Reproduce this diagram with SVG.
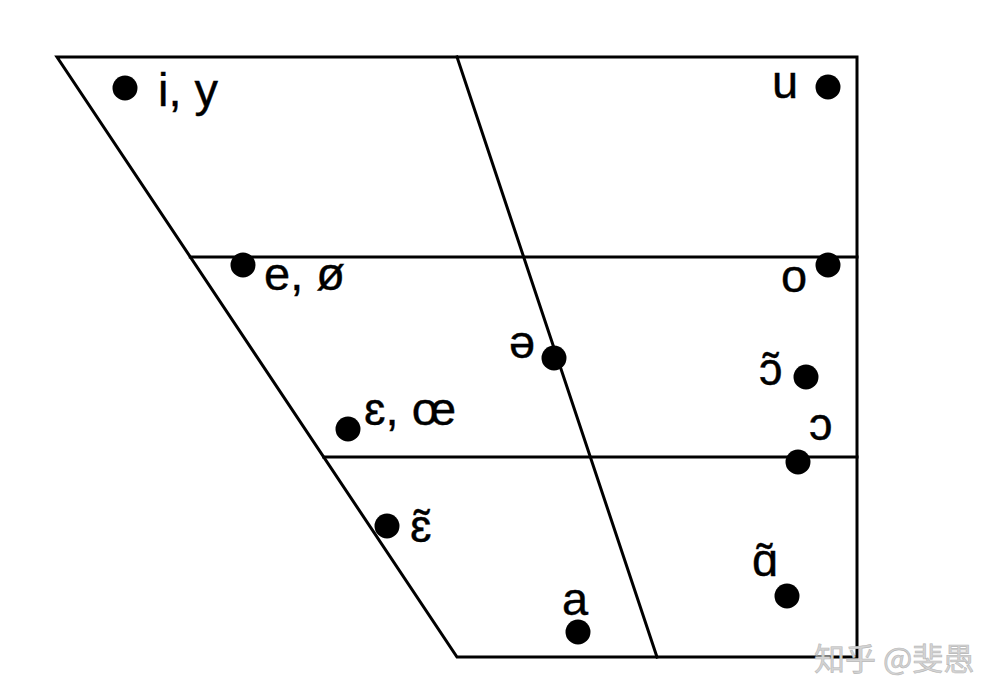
<svg xmlns="http://www.w3.org/2000/svg" width="1000" height="700" viewBox="0 0 1000 700">
<style>
.ln{stroke:#000;stroke-width:3;fill:none;stroke-linecap:square}
.dot{fill:#000}
.lb{font-family:"Liberation Sans",Arial,sans-serif;font-size:47px;fill:#000;stroke:#000;stroke-width:0.4}
.wm{font-family:"Noto Sans CJK SC","Liberation Sans",sans-serif;font-size:31px;fill:#d4d4d4;stroke:#b8b8b8;stroke-width:0.6}
</style>
<rect width="1000" height="700" fill="#fff"/>
<g id="connectors">
<polygon class="ln" points="57,57 857,57 857,657 457,657"/>
<line class="ln" x1="457" y1="57" x2="657" y2="657"/>
<line class="ln" x1="190.3" y1="257" x2="857" y2="257"/>
<line class="ln" x1="323.7" y1="457" x2="857" y2="457"/>
</g>
<g id="v-i"><circle class="dot" cx="125" cy="88" r="12.5"/><text class="lb" x="158" y="106">i, y</text></g>
<g id="v-u"><circle class="dot" cx="828" cy="87" r="12.5"/><text class="lb" x="772" y="98">u</text></g>
<g id="v-e"><circle class="dot" cx="243" cy="265" r="12.5"/><text class="lb" x="264" y="290">e, ø</text></g>
<g id="v-o"><circle class="dot" cx="828" cy="265" r="12.5"/><text class="lb" x="781" y="292">o</text></g>
<g id="v-schwa"><circle class="dot" cx="554" cy="358" r="12.5"/><text class="lb" x="509" y="358">ə</text></g>
<g id="v-on"><circle class="dot" cx="806" cy="377" r="12.5"/><text class="lb" x="759" y="385">ɔ̃</text></g>
<g id="v-eps"><circle class="dot" cx="348" cy="429" r="12.5"/><text class="lb" x="364" y="425">ɛ, œ</text></g>
<g id="v-open-o"><circle class="dot" cx="798" cy="462" r="12.5"/><text class="lb" x="809" y="440">ɔ</text></g>
<g id="v-en"><circle class="dot" cx="387" cy="526" r="12.5"/><text class="lb" x="410" y="542">ɛ̃</text></g>
<g id="v-an"><circle class="dot" cx="787" cy="596" r="12.5"/><text class="lb" x="752" y="576">ɑ̃</text></g>
<g id="v-a"><circle class="dot" cx="578" cy="632" r="12.5"/><text class="lb" x="562" y="615">a</text></g>
<text class="wm" x="814" y="670">知乎 @斐愚</text>
</svg>
